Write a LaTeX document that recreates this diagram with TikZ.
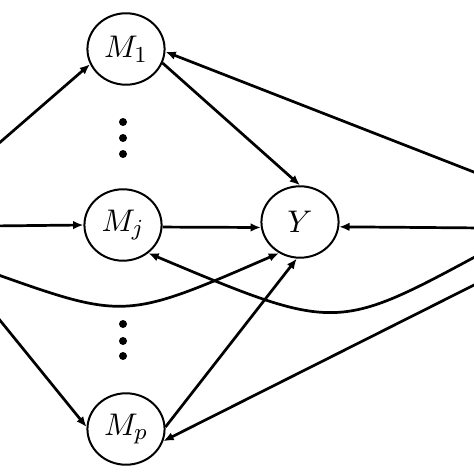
\documentclass[tikz,border=0pt]{standalone}
\usepackage{tikz}
\usetikzlibrary{arrows.meta,shapes.geometric,positioning}
\tikzset{var/.style={draw, ellipse, line width=0.7pt, inner sep=0pt,
		minimum width=27pt, minimum height=25pt, font=\fontsize{11}{13}\selectfont}}
\tikzset{edge/.style={->, line width=0.95pt}}

\begin{document}
\begin{tikzpicture}[x=0.35pt, y=-0.35pt, >={Latex[length=3.6pt,width=3pt]}]
	\useasboundingbox (0,0) rectangle (474,474);
	\clip (0,0) rectangle (474,474);
	
	\node[var] (m1) at (126,49) {$M_1$};
	\node[var] (mj) at (123,225) {$M_j$};
	\node[var] (mp) at (126,429) {$M_p$};
	\node[var] (y) at (300,222) {$Y$};
	
	% dots between the mediators
	\foreach \d in {122,138,154,324,341,356}
		\fill (123,\d) circle (1.4pt);
	
	% free ends, outside the picture
	\coordinate (xa) at (-10,151);
	\coordinate (xb) at (-10,226);
	\coordinate (xc) at (-10,308);
	\coordinate (xd) at (-10,272);
	\coordinate (zf) at (484,176);
	\coordinate (zi) at (484,228);
	\coordinate (ze) at (484,252);
	\coordinate (zk) at (484,280);
	
	\draw[edge] (xa) -- (m1.203);
	\draw[edge] (xb) -- (mj.180);
	\draw[edge] (xc) -- (mp.177);
	\draw[edge] (xd) .. controls (125,320) .. (y.236);
	\draw[edge] (m1.-21) -- (y.90);
	\draw[edge] (mj.-3) -- (y.188);
	\draw[edge] (mp.3) -- (y.265);
	\draw[edge] (zf) -- (m1.-4);
	\draw[edge] (zi) -- (y.-7);
	\draw[edge] (ze) .. controls (336,332) .. (mj.-48);
	\draw[edge] (zk) -- (mp.-18);
\end{tikzpicture}
\end{document}
